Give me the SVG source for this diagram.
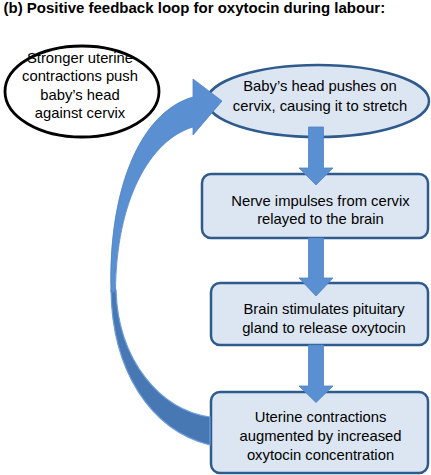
<svg xmlns="http://www.w3.org/2000/svg" width="431" height="475" viewBox="0 0 431 475">
<style>
text{font-family:"Liberation Sans",Arial,sans-serif;font-size:14.8px;fill:#000;text-anchor:middle}
.title{font-size:15px;font-weight:bold;text-anchor:start}
.box{fill:#dce6f2;stroke:#2f5a8c;stroke-width:2.5}
.arrow{fill:#5a8fd2;stroke:#4f84c6;stroke-width:0.8}
.back{fill:#4878b4;stroke:#6d9ddb;stroke-width:1.2}
</style>
<rect width="431" height="475" fill="#fff"/>
<text class="title" x="3.5" y="13">(b) Positive feedback loop for oxytocin during labour:</text>
<g id="node-stronger">
<ellipse cx="82" cy="91.5" rx="77" ry="45.5" fill="#fff" stroke="#000" stroke-width="2.8"/>
<text x="80" y="62.5">Stronger uterine</text>
<text x="80" y="81">contractions push</text>
<text x="80" y="99.5">baby’s head</text>
<text x="80" y="118">against cervix</text>
</g>
<g id="node-head">
<ellipse class="box" cx="318" cy="101" rx="111" ry="36"/>
<text x="320" y="91">Baby’s head pushes on</text>
<text x="320" y="110.5">cervix, causing it to stretch</text>
</g>
<g id="node-nerve">
<rect class="box" x="202" y="174" width="226" height="64" rx="9"/>
<text x="320.5" y="205.5">Nerve impulses from cervix</text>
<text x="320.5" y="224">relayed to the brain</text>
</g>
<g id="node-brain">
<rect class="box" x="211" y="283" width="217" height="62" rx="9"/>
<text x="324" y="314">Brain stimulates pituitary</text>
<text x="324" y="332.5">gland to release oxytocin</text>
</g>
<g id="node-uterine">
<rect class="box" x="211" y="392" width="217" height="81" rx="9"/>
<text x="320.5" y="421.5">Uterine contractions</text>
<text x="320.5" y="440.5">augmented by increased</text>
<text x="320.5" y="459.5">oxytocin concentration</text>
</g>
<g id="connectors">
<path class="arrow" d="M308.5,127 H323.5 V168 H333 L316,185 L299,168 H308.5 Z"/>
<path class="arrow" d="M308.5,238 H323.5 V278 H333 L316,296 L299,278 H308.5 Z"/>
<path class="arrow" d="M308.5,345 H323.5 V386 H333 L316,402.5 L299,386 H308.5 Z"/>
<path class="back" d="M111,290 C112,370 150,430 210,445 L210,417 C160,410 118,360 116,290 Z"/>
<path class="arrow" d="M111,292 C108,190 140,112 193,97 L193,79 L222,101 L193,135 L193,127 C150,140 116,200 115.5,292 Z"/>
</g>
</svg>
